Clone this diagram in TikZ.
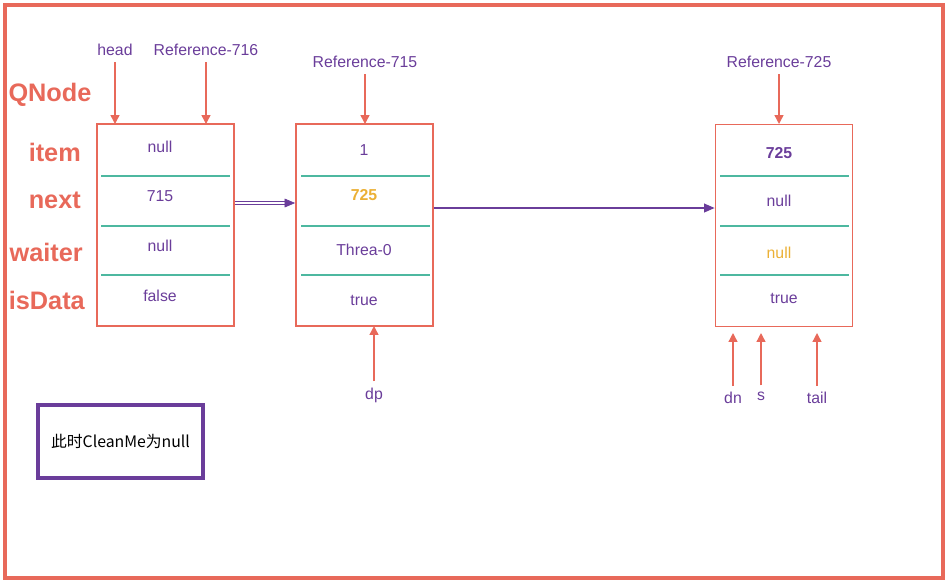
\documentclass[tikz,border=0pt]{standalone}
\usepackage{fontspec}
\setmainfont{Liberation Sans}
\newfontfamily\cjkfont{Noto Sans CJK SC}
\usetikzlibrary{arrows.meta,positioning}
\definecolor{qred}{HTML}{E8695A}
\definecolor{qpurple}{HTML}{6A3D9A}
\definecolor{qteal}{HTML}{4DB8A0}
\definecolor{qorange}{HTML}{EBB035}

\tikzset{
  node box/.style={draw=qred,line width=1pt,minimum width=2.74cm,minimum height=4.04cm,inner sep=0pt},
  cell/.style={text=qpurple,font=\small},
  field/.style={text=qred,font=\Large\bfseries,anchor=east},
  ref/.style={text=qpurple,font=\small},
  sep/.style={qteal,thick},
  pointer/.style={qred,thick,-{Triangle[length=5pt,width=5pt]}},
  link/.style={qpurple,thick,-{Triangle[length=6pt,width=5pt]}}
}

\begin{document}
\begin{tikzpicture}[x=0.02cm,y=-0.02cm]
\useasboundingbox (0,0) rectangle (949,583);
\draw[qred,line width=2.2pt] (5,5) rectangle (943,578);

% field names
\node[field,anchor=center] (qnode) at (50,95) {QNode};
\node[field] (fitem) at (87,152) {item};
\node[field] (fnext) at (87,200) {next};
\node[field] (fwaiter) at (89,252) {waiter};
\node[field] (fdata) at (91,300) {isData};

% nodes
\node[node box] (n716) at (165.5,225) {};
\node[node box] (n715) at (364.5,225) {};
\node[node box] (n725) at (784,225.5) {};
\foreach \n/\l in {n716/97,n715/297,n725/716}
  \foreach \y in {176,226,275}
    \draw[sep] (\l+4,\y) -- (\l+133,\y);

% cell values
\node[cell] (a1) at (160,147) {null};
\node[cell] (a2) at (160,196) {715};
\node[cell] (a3) at (160,246) {null};
\node[cell] (a4) at (160,296) {false};
\node[cell] (b1) at (364,150) {1};
\node[cell,text=qorange,font=\small\bfseries] (b2) at (364,195) {725};
\node[cell] (b3) at (364,250) {Threa-0};
\node[cell] (b4) at (364,300) {true};
\node[cell,font=\small\bfseries] (c1) at (779,153) {725};
\node[cell] (c2) at (779,201) {null};
\node[cell,text=qorange] (c3) at (779,253) {null};
\node[cell] (c4) at (784,298) {true};

% references
\node[ref] (head) at (115,50) {head};
\node[ref] (r716) at (206,50) {Reference-716};
\node[ref] (r715) at (365,62) {Reference-715};
\node[ref] (r725) at (779,62) {Reference-725};
\node[ref] (dp) at (374,395) {dp};
\node[ref] (dn) at (733,398) {dn};
\node[ref] (s) at (761,396) {s};
\node[ref] (tail) at (817,398) {tail};

\coordinate (t1) at (115,124);
\coordinate (t2) at (206,124);
\coordinate (t3) at (365,124);
\coordinate (t4) at (779,124);
\coordinate (d1) at (374,326);
\coordinate (d2) at (733,333);
\coordinate (d3) at (761,333);
\coordinate (d4) at (817,333);
\draw[pointer] (head) -- (t1);
\draw[pointer] (r716) -- (t2);
\draw[pointer] (r715) -- (t3);
\draw[pointer] (r725) -- (t4);
\draw[pointer] (dp) -- (d1);
\draw[pointer] (dn) -- (d2);
\draw[pointer] (s) -- (d3);
\draw[pointer] (tail) -- (d4);

% links
\draw[link,double,double distance=1pt,thin] (n716.east |- 0,203) -- (n715.west |- 0,203);
\draw[link] (n715.east |- 0,208) -- (n725.west |- 0,208);

% note
\node[draw=qpurple,line width=2pt,minimum width=3.3cm,minimum height=1.46cm] (clean) at (120.5,441.5) {\small\cjkfont 此时CleanMe为null};
\end{tikzpicture}
\end{document}
